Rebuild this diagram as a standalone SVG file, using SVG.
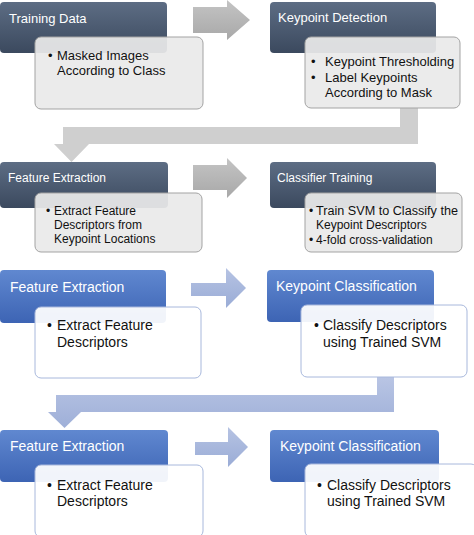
<svg xmlns="http://www.w3.org/2000/svg" width="474" height="535" viewBox="0 0 474 535">
<defs>
<linearGradient id="gDark" x1="0" y1="0" x2="0" y2="1"><stop offset="0" stop-color="#5d6d84"/><stop offset="1" stop-color="#3b495e"/></linearGradient>
<linearGradient id="gBlue" x1="0" y1="0" x2="0" y2="1"><stop offset="0" stop-color="#6088d0"/><stop offset="1" stop-color="#3d64b4"/></linearGradient>
<linearGradient id="gGrayArrow" x1="0" y1="0" x2="0" y2="1"><stop offset="0" stop-color="#c4c4c4"/><stop offset="1" stop-color="#a8a8a8"/></linearGradient>
<linearGradient id="gBlueArrow" x1="0" y1="0" x2="0" y2="1"><stop offset="0" stop-color="#b6c3e3"/><stop offset="1" stop-color="#9aacd6"/></linearGradient>
<linearGradient id="gBlueConn" x1="0" y1="0" x2="0" y2="1"><stop offset="0" stop-color="#b9c5e4"/><stop offset="1" stop-color="#9eafd8"/></linearGradient>
</defs>
<style>
.hd{fill:url(#gDark)}
.hb{fill:url(#gBlue)}
.bd{fill:#e9e9e9;fill-opacity:0.93;stroke:#a3a3a3;stroke-width:1}
.bb{fill:#ffffff;fill-opacity:0.93;stroke:#a8b8dc;stroke-width:1}
text{font-family:"Liberation Sans","DejaVu Sans",sans-serif}
.ht{fill:#ffffff;font-size:13px}
.ht2{fill:#ffffff;font-size:14px}
.bt{fill:#111111;font-size:13px}
.bt2{fill:#111111;font-size:12px}
.bt3{fill:#111111;font-size:14px}
</style>
<g id="connectors">
<polygon points="193,7 227,7 227,0 250,20 227,40 227,33 193,33" fill="url(#gGrayArrow)"/>
<polygon points="400,108 418,108 418,144 89,144 71.5,162 54,144 63,144 63,127 400,127" fill="#cfcfcf"/>
<polygon points="193,165 227,165 227,158 247,178 227,198 227,190 193,190" fill="url(#gGrayArrow)"/>
<polygon points="191,283 226,283 226,268 246,288 226,308 226,296 191,296" fill="url(#gBlueArrow)"/>
<polygon points="377,377 394,377 394,412 81,412 64.5,428 48,412 56,412 56,395 377,395" fill="url(#gBlueConn)"/>
<polygon points="195,442 228,442 228,427 248,447 228,467 228,455 195,455" fill="url(#gBlueArrow)"/>
</g>
<g id="training-data">
<rect class="hd" x="0" y="2" width="167" height="51" rx="4"/>
<text class="ht" x="9" y="23">Training Data</text>
<rect class="bd" x="35" y="37" width="168" height="72" rx="6"/>
<text class="bt" x="48" y="60">•</text>
<text class="bt" x="57" y="60">Masked Images</text>
<text class="bt" x="57" y="75">According to Class</text>
</g>
<g id="keypoint-detection">
<rect class="hd" x="270" y="2" width="166" height="51" rx="4"/>
<text class="ht" x="278" y="22">Keypoint Detection</text>
<rect class="bd" x="305" y="37" width="155" height="71" rx="6"/>
<text class="bt" x="311" y="66">•</text>
<text class="bt" x="325" y="66">Keypoint Thresholding</text>
<text class="bt" x="311" y="82">•</text>
<text class="bt" x="325" y="82">Label Keypoints</text>
<text class="bt" x="325" y="97">According to Mask</text>
</g>
<g id="feature-extraction-1">
<rect class="hd" x="0" y="162" width="168" height="46" rx="4"/>
<text class="ht" x="8" y="182" style="font-size:12px">Feature Extraction</text>
<rect class="bd" x="35" y="193" width="167" height="59" rx="6"/>
<text class="bt2" x="46" y="215">•</text>
<text class="bt2" x="54" y="215">Extract Feature</text>
<text class="bt2" x="54" y="229">Descriptors from</text>
<text class="bt2" x="54" y="243">Keypoint Locations</text>
</g>
<g id="classifier-training">
<rect class="hd" x="270" y="162" width="166" height="46" rx="4"/>
<text class="ht" x="277" y="182" style="font-size:12px">Classifier Training</text>
<rect class="bd" x="305" y="193" width="157" height="59" rx="6"/>
<text class="bt2" x="309" y="215">•</text>
<text class="bt2" x="316" y="215" textLength="142" lengthAdjust="spacingAndGlyphs">Train SVM to Classify the</text>
<text class="bt2" x="316" y="229">Keypoint Descriptors</text>
<text class="bt2" x="309" y="244">•</text>
<text class="bt2" x="316" y="244">4-fold cross-validation</text>
</g>
<g id="feature-extraction-2">
<rect class="hb" x="0" y="270" width="166" height="53" rx="4"/>
<text class="ht2" x="10" y="292">Feature Extraction</text>
<rect class="bb" x="35" y="307" width="166" height="71" rx="6"/>
<text class="bt3" x="47" y="330">•</text>
<text class="bt3" x="57" y="330">Extract Feature</text>
<text class="bt3" x="57" y="347">Descriptors</text>
</g>
<g id="keypoint-classification-1">
<rect class="hb" x="267" y="270" width="167" height="52" rx="4"/>
<text class="ht2" x="276" y="291">Keypoint Classification</text>
<rect class="bb" x="301" y="305" width="166" height="72" rx="6"/>
<text class="bt3" x="314" y="330">•</text>
<text class="bt3" x="323" y="330">Classify Descriptors</text>
<text class="bt3" x="323" y="347">using Trained SVM</text>
</g>
<g id="feature-extraction-3">
<rect class="hb" x="0" y="430" width="168" height="52" rx="4"/>
<text class="ht2" x="10" y="451">Feature Extraction</text>
<rect class="bb" x="35" y="465" width="168" height="72" rx="6"/>
<text class="bt3" x="47" y="490">•</text>
<text class="bt3" x="57" y="490">Extract Feature</text>
<text class="bt3" x="57" y="506">Descriptors</text>
</g>
<g id="keypoint-classification-2">
<rect class="hb" x="270" y="430" width="169" height="52" rx="4"/>
<text class="ht2" x="280" y="451">Keypoint Classification</text>
<rect class="bb" x="305" y="464" width="172" height="73" rx="6"/>
<text class="bt3" x="317" y="490">•</text>
<text class="bt3" x="327" y="490">Classify Descriptors</text>
<text class="bt3" x="327" y="506">using Trained SVM</text>
</g>
</svg>
